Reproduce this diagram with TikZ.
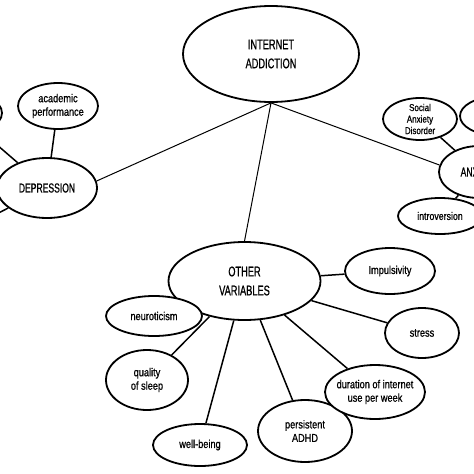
\documentclass[tikz,border=0pt]{standalone}
\usepackage{fontspec}
\setmainfont{Liberation Sans}[FakeStretch=0.8, FakeBold=0.8]
\newfontfamily\capsfont{Liberation Sans}[FakeStretch=0.66, FakeBold=0.8]
\usetikzlibrary{shapes}% ellipse nodes
\tikzset{every node/.style={font=\fontsize{11.5}{13.5}\selectfont},
  bubble/.style={ellipse, draw, fill=white, line width=1.8pt, inner sep=-4pt, align=center},
  bigbubble/.style={bubble, font=\capsfont\fontsize{14}{19}\selectfont},
  dims/.style 2 args={minimum width=#1pt, minimum height=#2pt},
  link/.style={line width=1.5pt},
  mainlink/.style={line width=1pt}}

\begin{document}
\begin{tikzpicture}[x=1pt, y=-1pt]
  \useasboundingbox (0,0) rectangle (474,474);
  \clip (0,0) rectangle (474,474);
  % centre
  \node[bigbubble, dims={176}{96}] (ia) at (271,54) {INTERNET\\ADDICTION};
  % depression branch
  \node[bigbubble, dims={100}{60}, font=\capsfont\fontsize{13}{17}\selectfont] (dep) at (47,188) {DEPRESSION};
  \node[bubble, dims={80}{46}] (acad) at (58,106) {academic\\performance};
  \node[bubble, dims={84}{44}] (left1) at (-40,113) {};
  \node[bubble, dims={80}{40}] (left2) at (-48,237) {};
  \draw[link] (acad) -- (dep);
  \draw[link] (left1) -- (dep);
  \draw[link] (left2) -- (dep);
  % anxiety branch
  \node[bigbubble, dims={80}{52}, font=\capsfont\fontsize{13}{17}\selectfont] (anx) at (479,172) {ANXIETY};
  \node[bubble, dims={74}{42}, font=\fontsize{10}{11.5}\selectfont] (sad) at (420,119) {Social\\Anxiety\\Disorder};
  \node[bubble, dims={70}{38}] (right1) at (495,116) {};
  \node[bubble, dims={84}{36}, font=\fontsize{11}{13}\selectfont] (intro) at (440,216) {introversion};
  \draw[link] (sad) -- (anx);
  \draw[link] (intro) -- (anx);
  % other variables
  \node[bigbubble, dims={152}{78}] (ov) at (244.5,281) {OTHER\\VARIABLES};
  \node[bubble, dims={96}{40}] (neur) at (154,316) {neuroticism};
  \node[bubble, dims={82}{60}] (sleep) at (147,380) {quality\\of sleep};
  \node[bubble, dims={94}{42}] (well) at (200,445) {well-being};
  \node[bubble, dims={94}{62}] (adhd) at (305,431) {persistent\\ADHD};
  \node[bubble, dims={100}{54}] (dur) at (375,392) {duration of internet\\use per week};
  \node[bubble, dims={74}{50}] (stress) at (422,333) {stress};
  \node[bubble, dims={90}{46}] (imp) at (390,271) {Impulsivity};
  \foreach \n in {sleep, well, adhd, dur, stress, imp}
    \draw[link] (ov) -- (\n);
  % links to the centre
  \draw[mainlink] (ia.south) -- (dep.8);
  \draw[mainlink] (ia.south) -- (ov.north);
  \draw[mainlink] (ia.south) -- (anx.170);
\end{tikzpicture}
\end{document}
